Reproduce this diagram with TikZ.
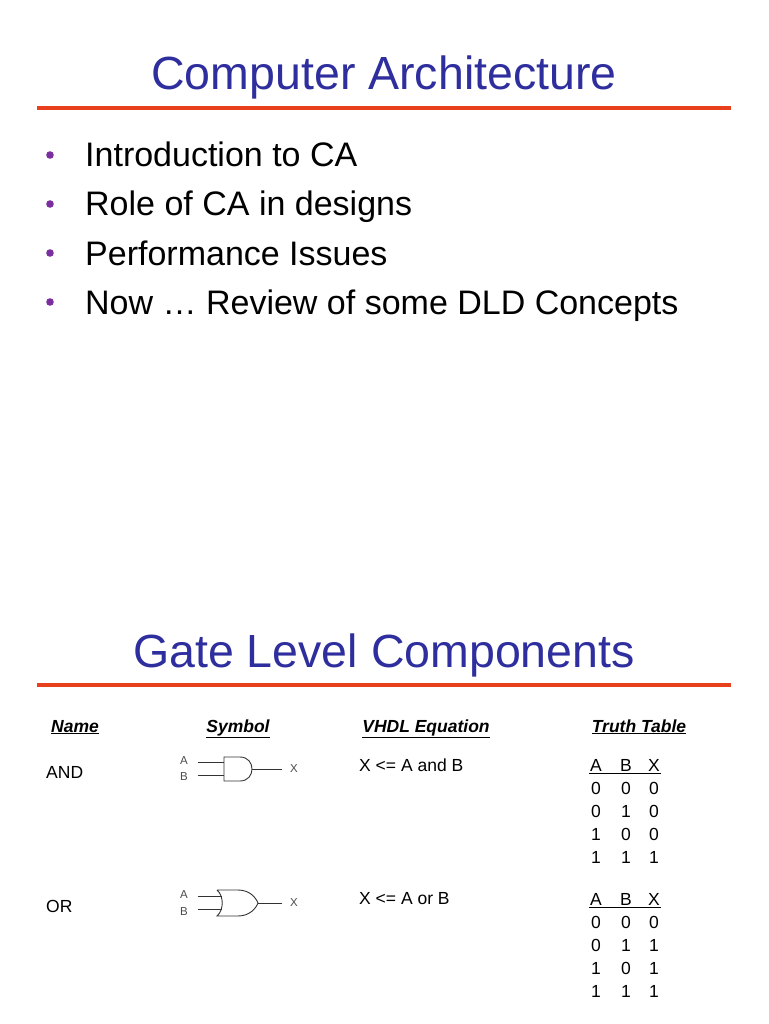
\documentclass[tikz,border=0pt]{standalone}
\usepackage{fontspec}
\setmainfont{Liberation Sans}
\begin{document}
\begin{tikzpicture}[x=1pt,y=-1pt,
  title/.style={font=\fontsize{46.5}{50}\selectfont,text=ttl,inner sep=0,anchor=base},
  bul/.style={font=\fontsize{34}{38}\selectfont,anchor=base west,inner sep=0},
  rule/.style={draw=rul,line width=3.5pt},
  hdr/.style={font=\fontsize{17.5}{20}\selectfont\bfseries\itshape,inner sep=0,anchor=base},
  txt/.style={font=\fontsize{17.5}{20}\selectfont,inner sep=0},
  sm/.style={font=\fontsize{11.5}{13}\selectfont,text=black!70,inner sep=0},
  wire/.style={draw=black!80,line width=0.9pt}]
\definecolor{ttl}{HTML}{2E2E9E}
\definecolor{rul}{HTML}{E8401C}
\definecolor{dot}{HTML}{7B2E9E}
\useasboundingbox (0,0) rectangle (768,1024);
\fill[white] (0,0) rectangle (768,1024);
\node[title] (t1) at (384,90) {Computer Architecture};
\draw[rule] (37,108) -- (731,108);
\foreach \t/\y [count=\i] in {Introduction to CA/155,Role of CA in designs/204,Performance Issues/253,Now … Review of some DLD Concepts/302}{
  \fill[dot] (50,\y) circle[radius=3.8pt];
  \node[bul] (b\i) at (85,\y+12) {\t};
}
\node[title] (t2) at (384,667) {Gate Level Components};
\draw[rule] (37,685) -- (731,685);
\node[hdr] (h1) at (75,732) {\underline{Name}};
\node[hdr] (h2) at (238,732) {\underline{Symbol}};
\node[hdr] (h3) at (426,732) {\underline{VHDL Equation}};
\node[hdr] (h4) at (639,732) {\underline{Truth Table}};
\node[txt,anchor=west] (n1) at (46,772) {AND};
\node[txt,anchor=west] (n2) at (46,906) {OR};
\node[txt,anchor=west] (e1) at (359,765) {X <= A and B};
\node[txt,anchor=west] (e2) at (359,899) {X <= A or B};
% AND gate
\node[sm] (a1) at (184,761) {A};
\node[sm] (a2) at (184,777) {B};
\node[sm] (ax) at (294,769) {X};
\draw[wire] (224,757) -- (240,757) .. controls (256,757) and (256,781) .. (240,781) -- (224,781) -- cycle;
\draw[wire] (198,762) -- (224,762); \draw[wire] (198,775) -- (224,775);
\draw[wire] (252,769) -- (282,769);
% OR gate
\node[sm] (o1) at (184,895) {A};
\node[sm] (o2) at (184,912) {B};
\node[sm] (ox) at (294,903) {X};
\draw[wire] (217,890) -- (238,890) .. controls (250,890) and (256,898) .. (258,903)
  .. controls (256,908) and (250,916) .. (238,916) -- (217,916)
  .. controls (224,910) and (224,896) .. (217,890);
\draw[wire] (198,896) -- (222,896); \draw[wire] (198,909) -- (222,909);
\draw[wire] (258,903) -- (282,903);
% truth tables
\foreach \yy/\r in {765/A,899/O}{
  \node[txt] (\r ha) at (596,\yy) {A}; \node[txt] (\r hb) at (626,\yy) {B}; \node[txt] (\r hx) at (654,\yy) {X};
  \draw[line width=0.8pt] (589,\yy+8) -- (661,\yy+8);
}
\foreach \a/\b/\x [count=\i] in {0/0/0,0/1/0,1/0/0,1/1/1}{
  \node[txt] at (596,765+23*\i) {\a}; \node[txt] at (626,765+23*\i) {\b}; \node[txt] at (654,765+23*\i) {\x};
}
\foreach \a/\b/\x [count=\i] in {0/0/0,0/1/1,1/0/1,1/1/1}{
  \node[txt] at (596,899+23*\i) {\a}; \node[txt] at (626,899+23*\i) {\b}; \node[txt] at (654,899+23*\i) {\x};
}
\end{tikzpicture}
\end{document}
